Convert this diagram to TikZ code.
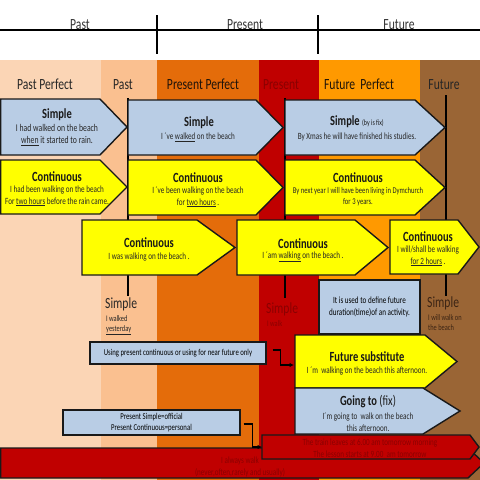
\documentclass[tikz,border=0pt]{standalone}
\usepackage{fontspec}
\setmainfont{Carlito}[FakeStretch=0.75]
\usetikzlibrary{arrows.meta}
\definecolor{cPP}{HTML}{FBD5B5}
\definecolor{cPa}{HTML}{FAC090}
\definecolor{cPrP}{HTML}{E46C0A}
\definecolor{cPr}{HTML}{C00000}
\definecolor{cFP}{HTML}{FF9900}
\definecolor{cFu}{HTML}{9A6535}
\definecolor{bxblue}{HTML}{B9CDE5}
\definecolor{bxyel}{HTML}{FFFF00}
\definecolor{bxred}{HTML}{C00000}
\definecolor{redtxt}{HTML}{8A0000}
\definecolor{browntxt}{HTML}{3B2414}
\tikzset{
  shp/.style={draw=black!90, line width=1.4pt, line join=miter},
  blueshp/.style={shp, fill=bxblue},
  yelshp/.style={shp, fill=bxyel},
  redshp/.style={shp, fill=bxred},
  tx/.style={inner sep=0pt, align=center, text=black!85, font=\fontsize{9.5}{11.5}\selectfont},
  hd/.style={inner sep=0pt, font=\fontsize{14}{16}\selectfont\bfseries, text=black!90},
  lab/.style={inner sep=0pt, font=\fontsize{15.5}{18}\selectfont},
  small/.style={inner sep=0pt, align=left, font=\fontsize{8.5}{10.5}\selectfont},
  rbox/.style={draw=black!90, line width=1.4pt, fill=bxblue, inner sep=0pt, align=center},
  tl/.style={line width=1.3pt, draw=black},
  conn/.style={line width=1.2pt, -{Latex[length=4.5pt,width=4.5pt]}},
}
\newcommand\pent[6]{\draw[#1] (#2,#3) -- (#4,#3) -- (#5,{(#3+#6)/2}) -- (#4,#6) -- (#2,#6) -- cycle;}
\begin{document}
\begin{tikzpicture}[x=1pt,y=-1pt]
\useasboundingbox (0,0) rectangle (480,480);
\fill[white] (0,0) rectangle (480,480);
% columns
\fill[cPP] (0,60) rectangle (101,480);
\fill[cPa] (101,60) rectangle (157,480);
\fill[cPrP] (157,60) rectangle (259,480);
\fill[cPr] (259,60) rectangle (319,480);
\fill[cFP] (319,60) rectangle (420,480);
\fill[cFu] (420,60) rectangle (480,480);
% top timeline
\draw[tl] (0,30) -- (480,30);
\draw[tl] (157,15) -- (157,54);
\draw[tl] (318,15) -- (318,54);
\node[lab, anchor=base, text=black!80] (tPast) at (80,29.5) {Past};
\node[lab, anchor=base, text=black!80] (tPres) at (245,29.5) {Present};
\node[lab, anchor=base, text=black!80] (tFut) at (399,29.5) {Future};
% column headers
\node[lab, anchor=base, text=black!85] (hPP) at (45,89) {Past Perfect};
\node[lab, anchor=base, text=black!85] (hPa) at (123,89) {Past};
\node[lab, anchor=base, text=black!85!brown] (hPrP) at (203,89) {Present Perfect};
\node[lab, anchor=base, text=redtxt] (hPr) at (281,89) {Present};
\node[lab, anchor=base, text=black!85!brown] (hFP) at (359,89) {Future\ \ Perfect};
\node[lab, anchor=base, text=black!85] (hFu) at (444,89) {Future};
% vertical tense lines
\draw[tl] (128,98) -- (128,296);
\draw[tl] (285,98) -- (285,298);
\draw[tl] (446,95) -- (446,296);
% arrow boxes
\pent{blueshp}{0.7}{99}{100}{127}{155}
\pent{blueshp}{128}{100}{256}{283}{155}
\pent{blueshp}{285}{100}{415}{445}{155}
\pent{yelshp}{0.7}{160}{100}{127}{214}
\pent{yelshp}{128}{160}{256}{283}{215}
\pent{yelshp}{285}{160}{415}{445}{215}
\pent{yelshp}{82}{220}{197}{235}{275}
\pent{yelshp}{237}{220}{355}{388}{275}
\pent{yelshp}{390}{220}{458}{479}{274}
\pent{yelshp}{295}{335}{425}{457}{388}
\pent{blueshp}{295}{388}{423}{460}{434}
\pent{redshp}{0.7}{448}{468}{484}{478}
\pent{redshp}{262}{435}{470}{479}{459}
% rectangle boxes
\node[rbox, minimum width=101pt, minimum height=54pt, font=\fontsize{9.5}{12.5}\selectfont] (J) at (369.5,307) {It is used to define future\\duration(time)of an activity.};
\node[rbox, minimum width=176pt, minimum height=22pt, font=\fontsize{9}{11}\selectfont] (K) at (178,353) {Using present continuous or using for near future only};
\node[rbox, minimum width=177pt, minimum height=25pt, font=\fontsize{9}{11.5}\selectfont] (N) at (151.5,422.5) {Present Simple=official\\Present Continuous=personal};
% texts in arrow boxes
\node[hd] (Ah) at (57,115) {Simple};
\node[tx, font=\fontsize{10.3}{12}\selectfont] (Ab) at (57,135) {I had walked on the beach\\\underline{when} it started to rain.};
\node[hd] (Bh) at (199,123) {Simple};
\node[tx] (Bb) at (198,137) {I ´ve \underline{walked} on the beach};
\node[hd] (Ch) at (357,122) {Simple {\fontsize{8}{9}\selectfont\mdseries (by is fix)}};
\node[tx] (Cb) at (357,137) {By Xmas he will have finished his studies.};
\node[hd] (Dh) at (57,177) {Continuous};
\node[tx] (Db) at (57,196) {I had been walking on the beach\\For \underline{two hours} before the rain came.};
\node[hd] (Eh) at (198,178) {Continuous};
\node[tx] (Eb) at (198,197) {I ´ve been walking on the beach\\for \underline{two hours} .};
\node[hd] (Fh) at (358,178) {Continuous};
\node[tx, font=\fontsize{8.8}{11}\selectfont] (Fb) at (358,197) {By next year I will have been living in Dymchurch\\for 3 years.};
\node[hd] (Gh) at (149,243) {Continuous};
\node[tx] (Gb) at (149,257) {I was walking on the beach .};
\node[hd] (Hh) at (303,244) {Continuous};
\node[tx] (Hb) at (303,257) {I ´am \underline{walking} on the beach .};
\node[hd] (Ih) at (428,237) {Continuous};
\node[tx] (Ib) at (428,256) {I will/shall be walking\\\underline{for 2 hours} .};
\node[hd] (Lh) at (367,357) {Future substitute};
\node[tx] (Lb) at (367,371) {I ´m\ \ walking on the beach this afternoon.};
\node[hd] (Mh) at (368,402) {Going to {\mdseries (fix)}};
\node[tx] (Mb) at (368,422) {I´m going to\ \ walk on the beach\\this afternoon.};
\node[tx, text=redtxt] (Ob) at (370,448) {The train leaves at 6.00 am tomorrow morning\\The lesson starts at 9.00\ \ am tomorrow};
\node[tx, text=redtxt] (Pb) at (240,467) {I always walk\\(never,often,rarely and usually)};
% simple labels
\node[lab, anchor=north west, text=black!85] (PaS) at (105,298) {Simple};
\node[small, anchor=north west, text=black!85] (PaSb) at (106,315) {I walked\\\underline{yesterday}};
\node[lab, anchor=north west, text=redtxt] (PrS) at (266,303) {Simple};
\node[small, anchor=north west, text=redtxt] (PrSb) at (267,320) {I walk};
\node[lab, anchor=north west, text=browntxt] (FuS) at (427,297) {Simple};
\node[small, anchor=north west, text=browntxt] (FuSb) at (428,314) {I will walk on\\the beach};
% connectors
\coordinate (Lin) at (294,365);
\coordinate (Oin) at (262,447);
\draw[conn] ([shift={(6,-3)}]K.east) -- ++(8,0) |- (Lin);
\draw[conn] ([shift={(3,1.5)}]N.east) -- ++(9,0) |- (Oin);
\end{tikzpicture}
\end{document}
